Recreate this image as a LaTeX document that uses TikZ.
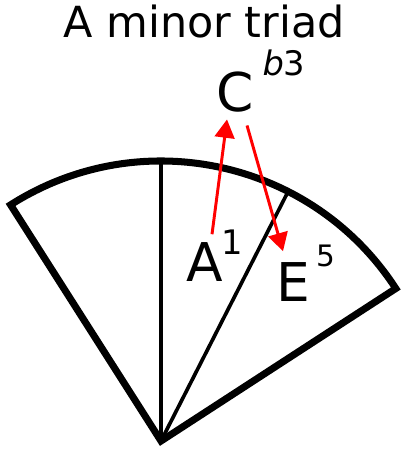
\documentclass[tikz,border=0pt]{standalone}
\usepackage{fontspec}
\setmainfont{DejaVu Sans}
\usetikzlibrary{arrows.meta}

\tikzset{
  rim/.style={line width=5pt, line join=miter},
  spoke/.style={line width=2.6pt},
  note/.style={inner sep=0pt, font=\fontsize{38}{40}\selectfont},
  degree/.style={inner sep=0pt, font=\fontsize{24}{26}\selectfont},
  move/.style={red, line width=2.1pt, -{Triangle[length=13pt,width=14pt]}},
}

\begin{document}
\begin{tikzpicture}
\useasboundingbox (0,0) rectangle (10.1,11.25);

% 扇形(中心Oから)
\coordinate (O) at (4.025,0.225);
\draw[spoke] (O) -- ++(90:7);
\draw[spoke] (O) -- ++(63:7);
\draw[rim] (O) -- ++(122.5:7) arc (122.5:33:7) -- cycle;

% タイトル
\node (title) at (5.1,10.7) {\fontsize{30.5}{33}\selectfont A minor triad};

% 和音の構成音
\node[note] (root) at (5.125,4.7) {A};
\node[note] (third) at (5.875,8.95) {C};
\node[note] (fifth) at (7.325,4.2) {E};

\node[degree] (rootdeg) at (5.8,5.2) {1};
\node[degree] (thirddeg) at (7.1,9.68) {{\itshape b}3};
\node[degree, font=\fontsize{21}{23}\selectfont] (fifthdeg) at (8.15,4.85) {5};

% 矢印
\draw[move] ([shift={(0.175,0.2)}]root.north) -- ([shift={(-0.2,-0.175)}]third.south);
\draw[move] ([shift={(0.3,-0.325)}]third.south) -- ([shift={(-0.25,0.275)}]fifth.north);
\end{tikzpicture}
\end{document}
